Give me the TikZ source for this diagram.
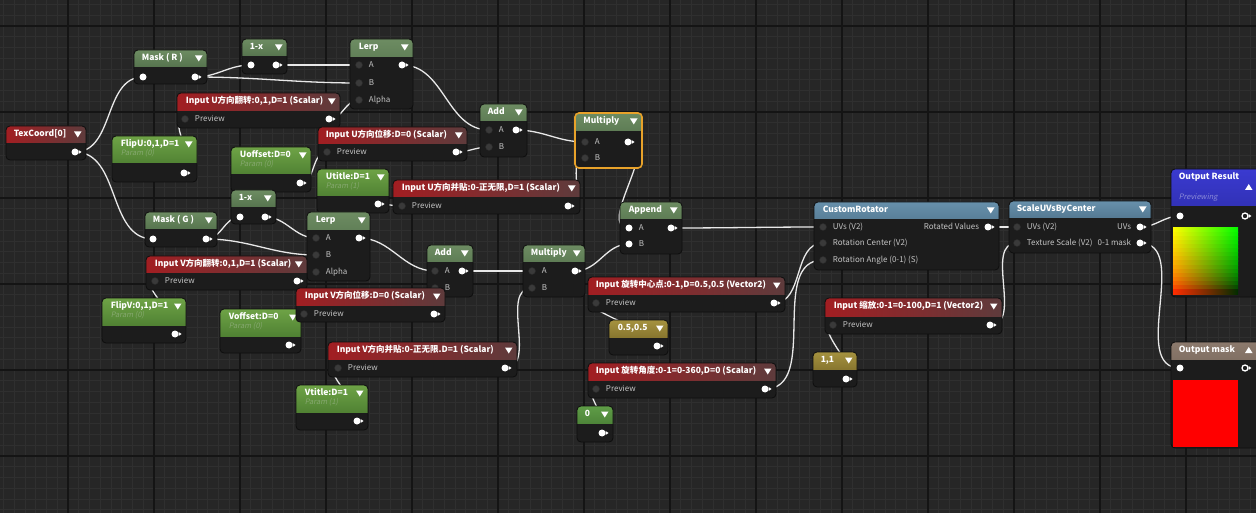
\documentclass[tikz,border=0pt]{standalone}
\usepackage{fontspec}
\setmainfont{Noto Sans CJK SC}[AutoFakeSlant=0.2]
\usetikzlibrary{fit, positioning}
\definecolor{Canvas}  {HTML}{262626}
\definecolor{GridMin} {HTML}{2F2F2F}
\definecolor{GridMaj} {HTML}{141414}
\definecolor{NodeBg}  {HTML}{1C1C1C}
\definecolor{NodeEdge}{HTML}{0E0E0E}
\definecolor{WireC}   {HTML}{E8E8E8}
\definecolor{PinOff}  {HTML}{3A3A3A}
\definecolor{PinRim}  {HTML}{2A2A2A}
\definecolor{LblC}    {HTML}{C4C4C4}
\definecolor{Sel}     {HTML}{E8A22A}
\definecolor{MathT}   {HTML}{6D8C62}
\definecolor{MathB}   {HTML}{3F5C3A}
\definecolor{ParL}    {HTML}{A21E22}
\definecolor{ParR}    {HTML}{5E3B3C}
\definecolor{PrmT}    {HTML}{6EA346}
\definecolor{PrmB}    {HTML}{3D6C27}
\definecolor{PrmSub}  {HTML}{86A870}
\definecolor{ConT}    {HTML}{5F9D47}
\definecolor{ConB}    {HTML}{3B6A2A}
\definecolor{VecT}    {HTML}{A5923F}
\definecolor{VecB}    {HTML}{6B5A1F}
\definecolor{FnT}     {HTML}{6790AB}
\definecolor{FnB}     {HTML}{2F4B60}
\definecolor{OutT}    {HTML}{3A3AD0}
\definecolor{OutB}    {HTML}{1C1C78}
\definecolor{PrvC}    {HTML}{8A8AD8}
\definecolor{MskT}    {HTML}{8C7A6D}
\definecolor{MskB}    {HTML}{4C3F37}
\pgfdeclarelayer{grid}
\pgfdeclarelayer{wires}
\pgfsetlayers{grid,wires,main}
\tikzset{
  nbody/.style={
    rectangle, rounded corners=4pt,
    fill=NodeBg, draw=NodeEdge, line width=0.8pt, inner sep=0pt,
  },
  hdr/.style args={#1/#2}{
    nbody, path picture={
      \shade[#1, sharp corners] (path picture bounding box.north west) rectangle ([yshift=-#2pt]path picture bounding box.north east);
      \fill[white, sharp corners] ([xshift=-12pt,yshift=-5.5pt]path picture bounding box.north east) -- ++(7.5pt,0) -- ++(-3.75pt,-6pt) -- cycle;
    },
  },
  outhdr/.style args={#1/#2/#3}{
    nbody, path picture={
      \shade[#1, sharp corners] (path picture bounding box.north west) rectangle ([yshift=-#2pt]path picture bounding box.north east);
      \fill[white, sharp corners] ([xshift=-19pt,yshift=-#3pt]path picture bounding box.north east) -- ++(7.5pt,0) -- ++(-3.75pt,6pt) -- cycle;
    },
  },
  mathsh/.style={top color=MathT, bottom color=MathB},
  redsh/.style={left color=ParL, right color=ParR},
  prmsh/.style={top color=PrmT, bottom color=PrmB},
  consh/.style={top color=ConT, bottom color=ConB},
  vecsh/.style={top color=VecT, bottom color=VecB},
  fnsh/.style={top color=FnT, bottom color=FnB},
  ressh/.style={top color=OutT, bottom color=OutB},
  msksh/.style={top color=MskT, bottom color=MskB},
  ttl/.style={
    font=\fontsize{8.5}{9}\selectfont\bfseries, text=white,
    inner sep=0pt, text height=6.3pt, text depth=1.6pt,
  },
  sub/.style={
    font=\fontsize{7.5}{8}\selectfont\itshape, text=#1,
    inner sep=0pt, text height=5.3pt, text depth=1.3pt,
  },
  sub/.default=PrmSub,
  plbl/.style={
    font=\fontsize{8}{8}\selectfont, text=LblC,
    inner sep=0pt, text height=5.8pt, text depth=1.5pt,
  },
  % pins
  pgray/.style={circle, fill=PinOff, draw=PinRim, line width=0.5pt, inner sep=0pt, minimum size=7pt},
  pwhite/.style={circle, fill=white, inner sep=0pt, minimum size=7pt},
  ptip/.style={append after command={\pgfextra{\fill[white, sharp corners] ([yshift=1.9pt]\tikzlastnode.east) -- ([xshift=2.8pt]\tikzlastnode.east) -- ([yshift=-1.9pt]\tikzlastnode.east) -- cycle;}}},
  pout/.style={pwhite, ptip},
  phollow/.style={circle, draw=white, fill=NodeBg, line width=1.3pt, inner sep=0pt, minimum size=6pt, ptip},
  wire/.style={draw=WireC, line width=1.3pt, out=0, in=180},
}
\begin{document}
\begin{tikzpicture}[x=1pt,y=-1pt]
  \useasboundingbox (0,0) rectangle (1256,513);
  \begin{pgfonlayer}{grid}
    \fill[Canvas] (0,0) rectangle (1256,513);
    \begin{scope}
      \clip (0,0) rectangle (1256,513);
      \begin{scope}[shift={(68,26)}]
        \draw[GridMin, line width=0.6pt, step=10.75pt] (-80pt,-500pt) grid (1200pt,40pt);
        \draw[GridMaj, line width=1.4pt, step=86pt] (-80pt,-500pt) grid (1200pt,40pt);
      \end{scope}
    \end{scope}
  \end{pgfonlayer}

  % ---- U branch
  \node[hdr=redsh/17, fit={(6,126) (86,160)}] (texc) {};
  \node[ttl, below right=4.5pt and 8pt of texc.north west] (texc-t) {TexCoord[0]};
  \node[pout] (texc-o) at (75,152) {};

  \node[hdr=mathsh/17, fit={(134,50) (207,84)}] (maskr) {};
  \node[ttl, below right=4.5pt and 8pt of maskr.north west] (maskr-t) {Mask ( R )};
  \node[pwhite] (maskr-i) at (143,77) {}; \node[pout] (maskr-o) at (195,77) {};

  \node[hdr=mathsh/17, fit={(242,39) (287,74)}] (omxu) {};
  \node[ttl, below right=4.5pt and 8pt of omxu.north west] (omxu-t) {1-x};
  \node[pwhite] (omxu-i) at (251,65) {}; \node[pout] (omxu-o) at (276,65) {};

  \node[hdr=mathsh/18, fit={(350,39) (413,109)}] (lerpu) {};
  \node[ttl, below right=4.5pt and 9pt of lerpu.north west] (lerpu-t) {Lerp};
  \node[pgray] (lerpu-a) at (359,65) {}; \node[plbl, right=6pt of lerpu-a] (lerpu-al) {A};
  \node[pgray] (lerpu-b) at (359,83) {}; \node[plbl, right=6pt of lerpu-b] (lerpu-bl) {B};
  \node[pgray] (lerpu-c) at (359,100) {}; \node[plbl, right=6pt of lerpu-c] (lerpu-cl) {Alpha};
  \node[pout] (lerpu-o) at (402,65) {};

  \node[hdr=redsh/18, fit={(177,93) (340,128)}] (inuf) {};
  \node[ttl, below right=4.5pt and 9pt of inuf.north west] (inuf-t) {Input U方向翻转:0,1,D=1 (Scalar)};
  \node[pgray] (inuf-p) at (185,119) {}; \node[plbl, right=6pt of inuf-p] (inuf-pl) {Preview};
  \node[pout] (inuf-o) at (329,119) {};

  \node[hdr=prmsh/27, fit={(112,136) (197,182)}] (flipu) {};
  \node[ttl, below right=4.5pt and 9pt of flipu.north west] (flipu-t) {FlipU:0,1,D=1};
  \node[sub, below right=2pt and 0pt of flipu-t.south west] (flipu-s) {Param (0)};
  \node[pout] (flipu-o) at (184,173) {};

  \node[hdr=prmsh/27, fit={(231,147) (311,192)}] (uoff) {};
  \node[ttl, below right=4.5pt and 9pt of uoff.north west] (uoff-t) {Uoffset:D=0};
  \node[sub, below right=2pt and 0pt of uoff-t.south west] (uoff-s) {Param (0)};
  \node[pout] (uoff-o) at (300,183) {};

  \node[hdr=redsh/17, fit={(318,127) (467,161)}] (inuo) {};
  \node[ttl, below right=4.5pt and 8pt of inuo.north west] (inuo-t) {Input U方向位移:D=0 (Scalar)};
  \node[pgray] (inuo-p) at (327,152) {}; \node[plbl, right=6pt of inuo-p] (inuo-pl) {Preview};
  \node[pout] (inuo-o) at (456,152) {};

  \node[hdr=mathsh/17, fit={(480,104) (527,157)}] (addu) {};
  \node[ttl, below right=4.5pt and 8pt of addu.north west] (addu-t) {Add};
  \node[pgray] (addu-a) at (489,130) {}; \node[plbl, right=6pt of addu-a] (addu-al) {A};
  \node[pgray] (addu-b) at (489,147) {}; \node[plbl, right=6pt of addu-b] (addu-bl) {B};
  \node[pout] (addu-o) at (516,130) {};

  \node[hdr=mathsh/18, fit={(575,113) (642,168)}, draw=Sel, line width=1.6pt] (mulu) {};
  \node[ttl, below right=5pt and 9pt of mulu.north west] (mulu-t) {Multiply};
  \node[pgray] (mulu-a) at (585,142) {}; \node[plbl, right=6pt of mulu-a] (mulu-al) {A};
  \node[pgray] (mulu-b) at (585,158) {}; \node[plbl, right=6pt of mulu-b] (mulu-bl) {B};
  \node[pout] (mulu-o) at (628,142) {};

  \node[hdr=prmsh/27, fit={(317,169) (389,213)}] (utile) {};
  \node[ttl, below right=4.5pt and 9pt of utile.north west] (utile-t) {Utitle:D=1};
  \node[sub, below right=2pt and 0pt of utile-t.south west] (utile-s) {Param (1)};
  \node[pout] (utile-o) at (378,204) {};

  \node[hdr=redsh/17, fit={(393,180) (580,214)}] (inut) {};
  \node[ttl, below right=4.5pt and 9pt of inut.north west] (inut-t) {Input U方向并贴:0-正无限,D=1 (Scalar)};
  \node[pgray] (inut-p) at (402,206) {}; \node[plbl, right=6pt of inut-p] (inut-pl) {Preview};
  \node[pout] (inut-o) at (568,206) {};

  % ---- V branch
  \node[hdr=mathsh/17, fit={(231,190) (276,224)}] (omxv) {};
  \node[ttl, below right=4.5pt and 8pt of omxv.north west] (omxv-t) {1-x};
  \node[pwhite] (omxv-i) at (240,217) {}; \node[pout] (omxv-o) at (265,217) {};

  \node[hdr=mathsh/17, fit={(145,212) (217,247)}] (maskg) {};
  \node[ttl, below right=4.5pt and 8pt of maskg.north west] (maskg-t) {Mask ( G )};
  \node[pwhite] (maskg-i) at (153,239) {}; \node[pout] (maskg-o) at (206,239) {};

  \node[hdr=mathsh/18, fit={(307,212) (370,281)}] (lerpv) {};
  \node[ttl, below right=4.5pt and 9pt of lerpv.north west] (lerpv-t) {Lerp};
  \node[pgray] (lerpv-a) at (316,238) {}; \node[plbl, right=6pt of lerpv-a] (lerpv-al) {A};
  \node[pgray] (lerpv-b) at (316,255) {}; \node[plbl, right=6pt of lerpv-b] (lerpv-bl) {B};
  \node[pgray] (lerpv-c) at (316,272) {}; \node[plbl, right=6pt of lerpv-c] (lerpv-cl) {Alpha};
  \node[pout] (lerpv-o) at (359,238) {};

  \node[hdr=redsh/17, fit={(146,256) (307,290)}] (invf) {};
  \node[ttl, below right=4.5pt and 9pt of invf.north west] (invf-t) {Input V方向翻转:0,1,D=1 (Scalar)};
  \node[pgray] (invf-p) at (155,281) {}; \node[plbl, right=6pt of invf-p] (invf-pl) {Preview};
  \node[pout] (invf-o) at (297,281) {};

  \node[hdr=prmsh/27, fit={(102,298) (186,343)}] (flipv) {};
  \node[ttl, below right=4.5pt and 9pt of flipv.north west] (flipv-t) {FlipV:0,1,D=1};
  \node[sub, below right=2pt and 0pt of flipv-t.south west] (flipv-s) {Param (0)};
  \node[pout] (flipv-o) at (175,334) {};

  \node[hdr=prmsh/27, fit={(220,309) (301,353)}] (voff) {};
  \node[ttl, below right=4.5pt and 9pt of voff.north west] (voff-t) {Voffset:D=0};
  \node[sub, below right=2pt and 0pt of voff-t.south west] (voff-s) {Param (0)};
  \node[pout] (voff-o) at (289,345) {};

  \node[hdr=mathsh/17, fit={(427,245) (473,297)}] (addv) {};
  \node[ttl, below right=4.5pt and 8pt of addv.north west] (addv-t) {Add};
  \node[pgray] (addv-a) at (435,271) {}; \node[plbl, right=6pt of addv-a] (addv-al) {A};
  \node[pgray] (addv-b) at (435,288) {}; \node[plbl, right=6pt of addv-b] (addv-bl) {B};
  \node[pout] (addv-o) at (462,271) {};

  \node[hdr=redsh/17, fit={(296,288) (445,322)}] (invo) {};
  \node[ttl, below right=4.5pt and 9pt of invo.north west] (invo-t) {Input V方向位移:D=0 (Scalar)};
  \node[pgray] (invo-p) at (304,314) {}; \node[plbl, right=6pt of invo-p] (invo-pl) {Preview};
  \node[pout] (invo-o) at (434,314) {};

  \node[hdr=mathsh/17, fit={(523,245) (585,297)}] (mulv) {};
  \node[ttl, below right=4.5pt and 8pt of mulv.north west] (mulv-t) {Multiply};
  \node[pgray] (mulv-a) at (532,271) {}; \node[plbl, right=6pt of mulv-a] (mulv-al) {A};
  \node[pgray] (mulv-b) at (532,288) {}; \node[plbl, right=6pt of mulv-b] (mulv-bl) {B};
  \node[pout] (mulv-o) at (575,271) {};

  \node[hdr=redsh/17, fit={(328,342) (517,377)}] (invt) {};
  \node[ttl, below right=4.5pt and 9pt of invt.north west] (invt-t) {Input V方向并贴:0-正无限.D=1 (Scalar)};
  \node[pgray] (invt-p) at (338,368) {}; \node[plbl, right=6pt of invt-p] (invt-pl) {Preview};
  \node[pout] (invt-o) at (505,368) {};

  \node[hdr=prmsh/27, fit={(296,385) (368,430)}] (vtile) {};
  \node[ttl, below right=4.5pt and 9pt of vtile.north west] (vtile-t) {Vtitle:D=1};
  \node[sub, below right=2pt and 0pt of vtile-t.south west] (vtile-s) {Param (1)};
  \node[pout] (vtile-o) at (357,421) {};

  % ---- rotate and scale
  \node[hdr=mathsh/17, fit={(620,202) (682,254)}] (app) {};
  \node[ttl, below right=4.5pt and 9pt of app.north west] (app-t) {Append};
  \node[pwhite] (app-a) at (629,228) {}; \node[plbl, right=6pt of app-a] (app-al) {A};
  \node[pwhite] (app-b) at (629,244) {}; \node[plbl, right=6pt of app-b] (app-bl) {B};
  \node[pout] (app-o) at (671,228) {};

  \node[hdr=redsh/17, fit={(588,277) (785,312)}] (ctr) {};
  \node[ttl, below right=4.5pt and 8pt of ctr.north west] (ctr-t) {Input 旋转中心点:0-1,D=0.5,0.5 (Vector2)};
  \node[pgray] (ctr-p) at (596,303) {}; \node[plbl, right=6pt of ctr-p] (ctr-pl) {Preview};
  \node[pout] (ctr-o) at (774,303) {};

  \node[hdr=vecsh/17, fit={(609,320) (668,355)}] (c55) {};
  \node[ttl, below right=4.5pt and 9pt of c55.north west] (c55-t) {0.5,0.5};
  \node[pout] (c55-o) at (657,346) {};

  \node[hdr=redsh/17, fit={(588,363) (776,398)}] (ang) {};
  \node[ttl, below right=4.5pt and 8pt of ang.north west] (ang-t) {Input 旋转角度:0-1=0-360,D=0 (Scalar)};
  \node[pgray] (ang-p) at (596,389) {}; \node[plbl, right=6pt of ang-p] (ang-pl) {Preview};
  \node[pout] (ang-o) at (765,389) {};

  \node[hdr=consh/17, fit={(577,406) (613,442)}] (c0) {};
  \node[ttl, below right=4.5pt and 8pt of c0.north west] (c0-t) {0};
  \node[pout] (c0-o) at (602,433) {};

  \node[hdr=fnsh/17, fit={(814,202) (999,270)}] (crot) {};
  \node[ttl, below right=4.5pt and 9pt of crot.north west] (crot-t) {CustomRotator};
  \node[pgray] (crot-uv) at (823,227) {}; \node[plbl, right=6pt of crot-uv] (crot-uvl) {UVs (V2)};
  \node[pgray] (crot-rc) at (823,243) {}; \node[plbl, right=6pt of crot-rc] (crot-rcl) {Rotation Center (V2)};
  \node[pgray] (crot-ra) at (823,260) {}; \node[plbl, right=6pt of crot-ra] (crot-ral) {Rotation Angle (0-1) (S)};
  \node[pout] (crot-o) at (988,227) {}; \node[plbl, left=5pt of crot-o] (crot-ol) {Rotated Values};

  \node[hdr=redsh/18, fit={(825,298) (1002,334)}] (scl) {};
  \node[ttl, below right=4.5pt and 9pt of scl.north west] (scl-t) {Input 缩放:0-1=0-100,D=1 (Vector2)};
  \node[pgray] (scl-p) at (833,325) {}; \node[plbl, right=6pt of scl-p] (scl-pl) {Preview};
  \node[pout] (scl-o) at (990,325) {};

  \node[hdr=vecsh/17, fit={(813,352) (857,387)}] (c11) {};
  \node[ttl, below right=4.5pt and 8pt of c11.north west] (c11-t) {1,1};
  \node[pout] (c11-o) at (846,379) {};

  \node[hdr=fnsh/17, fit={(1009,201) (1151,253)}] (suv) {};
  \node[ttl, below right=4.5pt and 8pt of suv.north west] (suv-t) {ScaleUVsByCenter};
  \node[pgray] (suv-uv) at (1017,227) {}; \node[plbl, right=6pt of suv-uv] (suv-uvl) {UVs (V2)};
  \node[pgray] (suv-ts) at (1017,243) {}; \node[plbl, right=6pt of suv-ts] (suv-tsl) {Texture Scale (V2)};
  \node[pout] (suv-o1) at (1140,227) {}; \node[plbl, left=5pt of suv-o1] (suv-o1l) {UVs};
  \node[pout] (suv-o2) at (1140,243) {}; \node[plbl, left=5pt of suv-o2] (suv-o2l) {0-1 mask};

  % ---- outputs
  \node[outhdr=ressh/37/21, fit={(1171,169) (1264,297)}] (ores) {};
  \node[ttl, below right=4.5pt and 8pt of ores.north west] (ores-t) {Output Result};
  \node[sub=PrvC, below right=13pt and 0pt of ores-t.south west] (ores-s) {Previewing};
  \node[pwhite] (ores-i) at (1180,216) {}; \node[phollow] (ores-o) at (1245,216) {};
  \foreach \k in {0,...,15}{
    \pgfmathsetmacro\gv{(1-(\k+0.5)/16)^0.5}
    \definecolor{uvL}{rgb}{1,\gv,0}\definecolor{uvM}{rgb}{0.72,\gv,0}\definecolor{uvR}{rgb}{0,\gv,0}
    \shade[left color=uvL, middle color=uvM, right color=uvR] (1173,{228+\k*4.125}) rectangle (1238,{228+\k*4.125+4.3});
  }

  \node[outhdr=msksh/17/11, fit={(1171,342) (1264,448)}] (omask) {};
  \node[ttl, below right=4.5pt and 8pt of omask.north west] (omask-t) {Output mask};
  \node[pwhite] (omask-i) at (1180,368) {}; \node[phollow] (omask-o) at (1245,368) {};
  \fill[red] (1173,380) rectangle (1238,447);

  % ---- wires
  \begin{pgfonlayer}{wires}
    \draw[wire] (texc-o.center) to (maskr-i.center);
    \draw[wire] (texc-o.center) to (maskg-i.center);
    \draw[wire] (maskr-o.center) to (omxu-i.center);
    \draw[wire] (omxu-o.center) to (lerpu-a.center);
    \draw[wire] (maskr-o.center) to (lerpu-b.center);
    \draw[wire] (flipu-o.center) to (inuf-p.center);
    \draw[wire] (inuf-o.center) to (lerpu-c.center);
    \draw[wire] (lerpu-o.center) to (addu-a.center);
    \draw[wire] (uoff-o.center) to (inuo-p.center);
    \draw[wire] (inuo-o.center) to (addu-b.center);
    \draw[wire] (addu-o.center) to (mulu-a.center);
    \draw[wire] (utile-o.center) to (inut-p.center);
    \draw[wire] (inut-o.center) to (mulu-b.center);
    \draw[wire] (mulu-o.center) to (app-a.center);
    \draw[wire] (maskg-o.center) to (omxv-i.center);
    \draw[wire] (omxv-o.center) to (lerpv-a.center);
    \draw[wire] (maskg-o.center) to (lerpv-b.center);
    \draw[wire] (flipv-o.center) to (invf-p.center);
    \draw[wire] (invf-o.center) to (lerpv-c.center);
    \draw[wire] (lerpv-o.center) to (addv-a.center);
    \draw[wire] (voff-o.center) to (invo-p.center);
    \draw[wire] (invo-o.center) to (addv-b.center);
    \draw[wire] (addv-o.center) to (mulv-a.center);
    \draw[wire] (vtile-o.center) to (invt-p.center);
    \draw[wire] (invt-o.center) to (mulv-b.center);
    \draw[wire] (mulv-o.center) to (app-b.center);
    \draw[wire] (app-o.center) to (crot-uv.center);
    \draw[wire] (c55-o.center) to (ctr-p.center);
    \draw[wire] (ctr-o.center) to (crot-rc.center);
    \draw[wire] (c0-o.center) to (ang-p.center);
    \draw[wire] (ang-o.center) to (crot-ra.center);
    \draw[wire] (crot-o.center) to (suv-uv.center);
    \draw[wire] (c11-o.center) to (scl-p.center);
    \draw[wire] (scl-o.center) to (suv-ts.center);
    \draw[wire] (suv-o1.center) to (ores-i.center);
    \draw[wire] (suv-o2.center) to (omask-i.center);
  \end{pgfonlayer}
\end{tikzpicture}
\end{document}
